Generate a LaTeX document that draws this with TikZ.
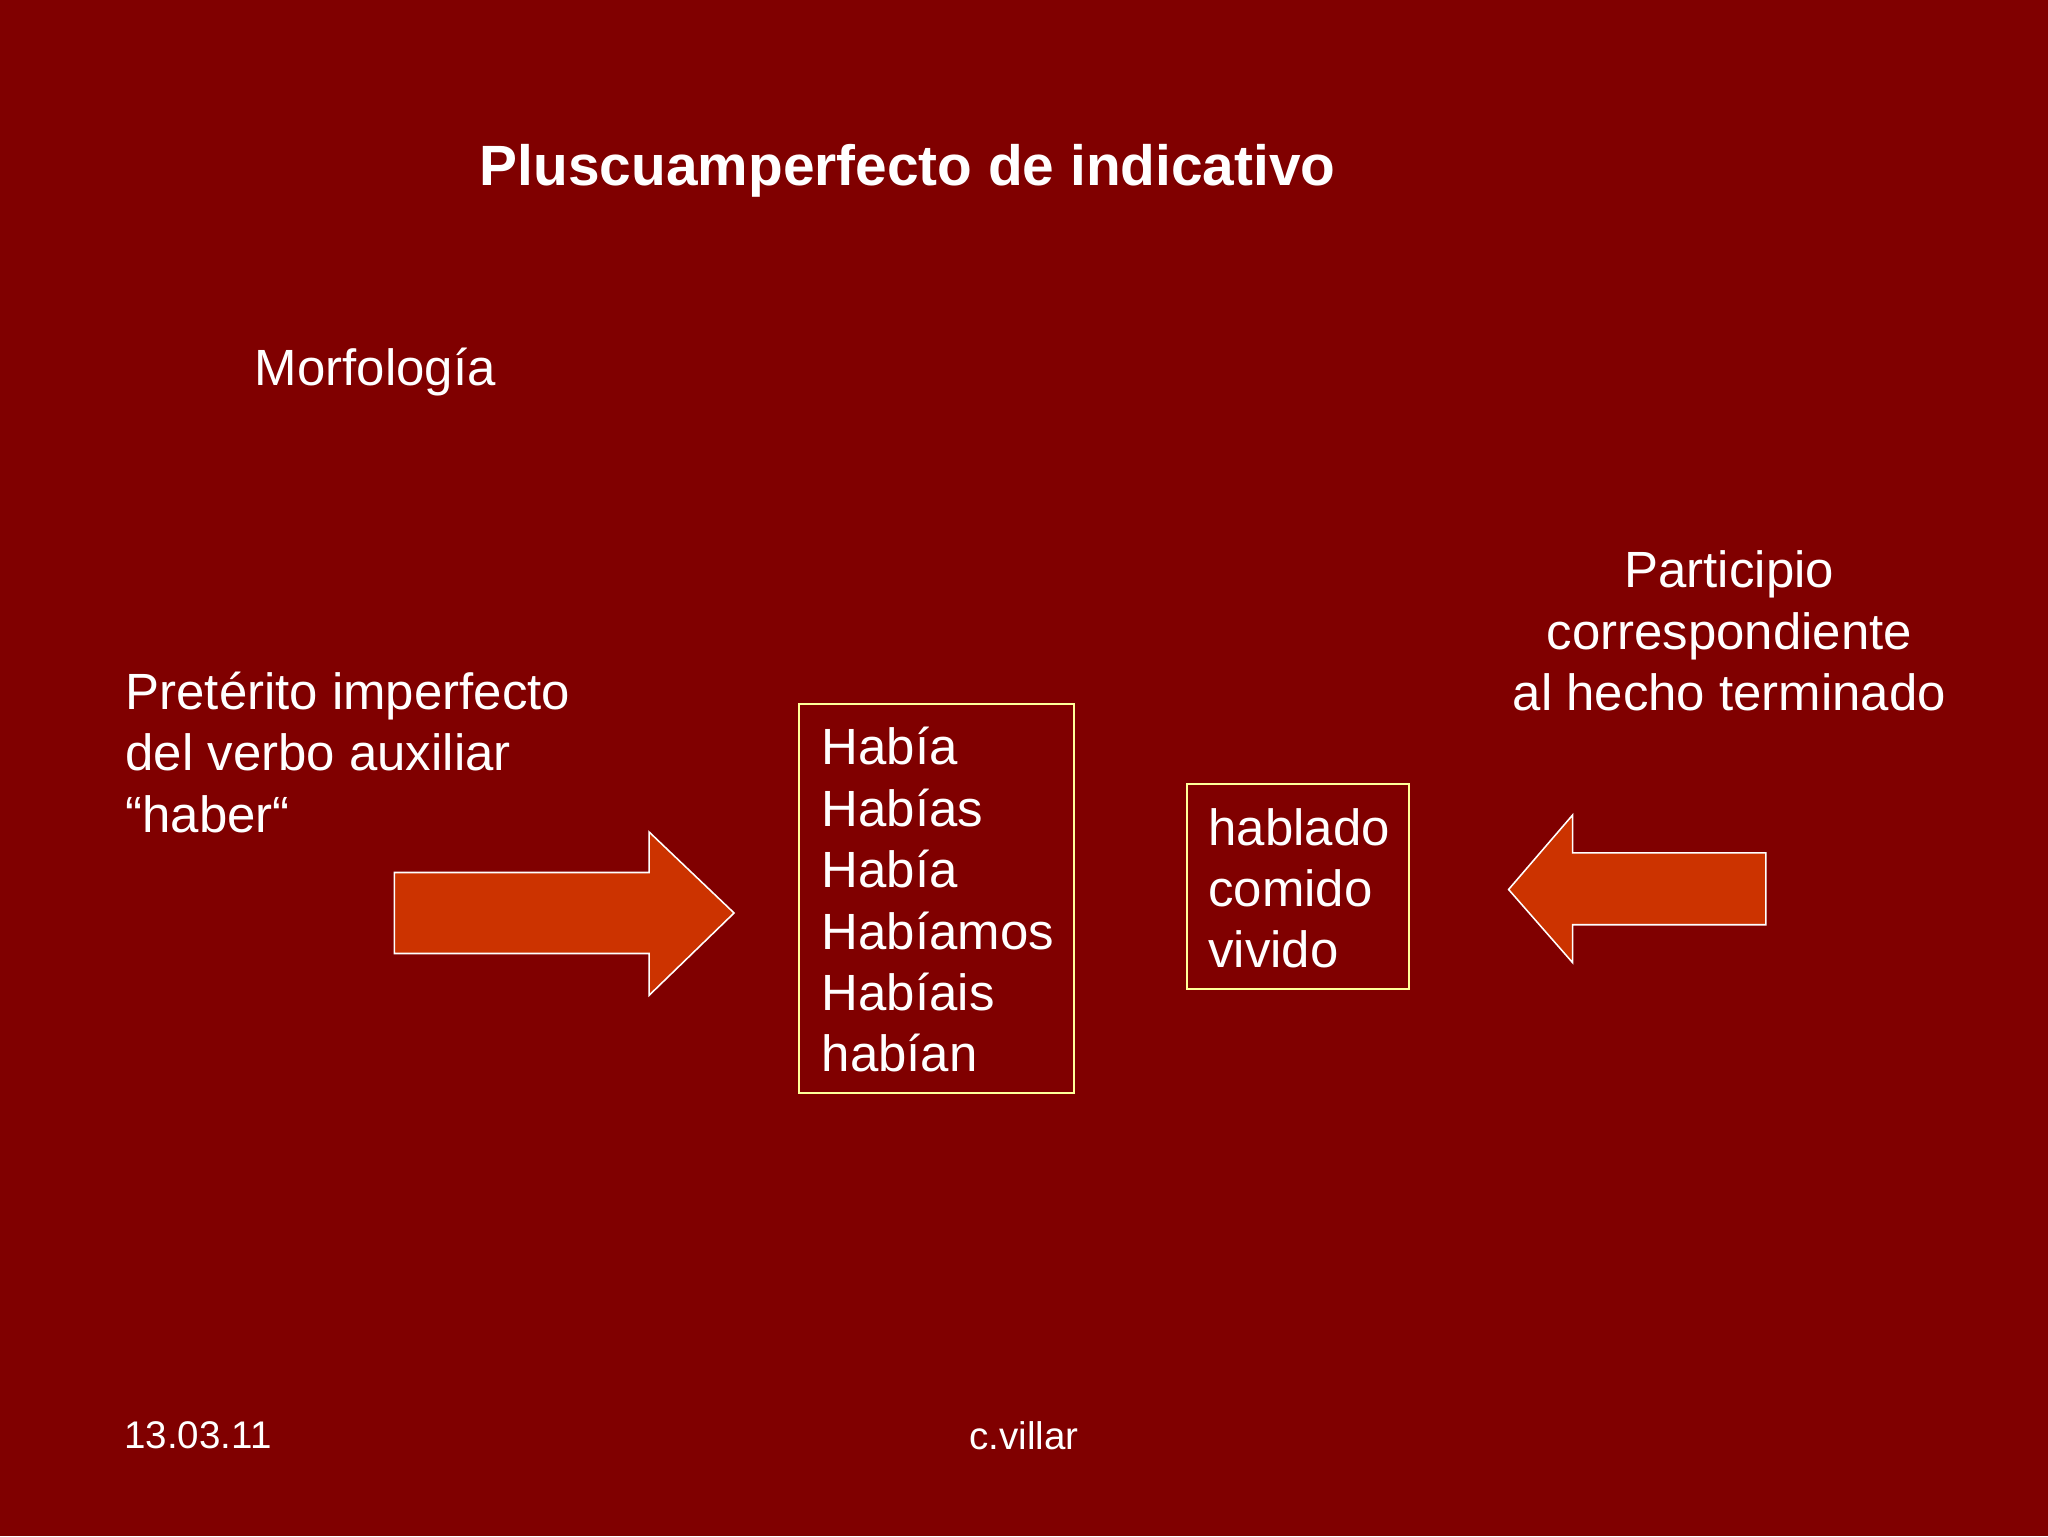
\documentclass[tikz,border=0pt]{standalone}
\usepackage{fontspec}
\setmainfont{Liberation Sans}
\definecolor{arrc}{RGB}{204,51,0}
\definecolor{bg}{RGB}{128,0,0}
\definecolor{boxc}{RGB}{255,255,153}
\begin{document}
\begin{tikzpicture}[x=1pt,y=-1pt,
  txt/.style={text=white,inner sep=0pt,font=\fontsize{39}{47}\selectfont},
  boxr/.style={draw=boxc,line width=1.5pt},
  arr/.style={fill=arrc,draw=white,line width=1.2pt}]
\fill[bg] (0,0) rectangle (1568,1176);
\useasboundingbox (0,0) rectangle (1568,1176);
\node[txt,font=\bfseries\fontsize{43.5}{50}\selectfont] (title) at (695,131) {Pluscuamperfecto de indicativo};
\node[txt,anchor=west] (morf) at (195,285) {Morfología};
\node[txt,anchor=west,align=left] (pret) at (96,576) {Pretérito imperfecto\\del verbo auxiliar\\“haber“};
\node[txt,align=center] (part) at (1324,483) {Participio\\correspondiente\\al hecho terminado};
\node[boxr,minimum width=210pt,minimum height=298pt,inner sep=0pt] (b1) at (717,688) {};
\node[txt,anchor=west,align=left] (b1t) at (629,689) {Había\\Habías\\Había\\Habíamos\\Habíais\\habían};
\node[boxr,minimum width=170pt,minimum height=157pt,inner sep=0pt] (b2) at (994,678.5) {};
\node[txt,anchor=west,align=left] (b2t) at (925,680) {hablado\\comido\\vivido};
\draw[arr] (302,668) -- (497,668) -- (497,637) -- (562,699) -- (497,762) -- (497,730) -- (302,730) -- cycle;
\draw[arr] (1352,653) -- (1204,653) -- (1204,624) -- (1155,681) -- (1204,737) -- (1204,708) -- (1352,708) -- cycle;
\node[txt,anchor=west,font=\fontsize{29.5}{34}\selectfont] (date) at (95,1099) {13.03.11};
\node[txt,font=\fontsize{29.5}{34}\selectfont] (auth) at (784,1099) {c.villar};
\end{tikzpicture}
\end{document}
